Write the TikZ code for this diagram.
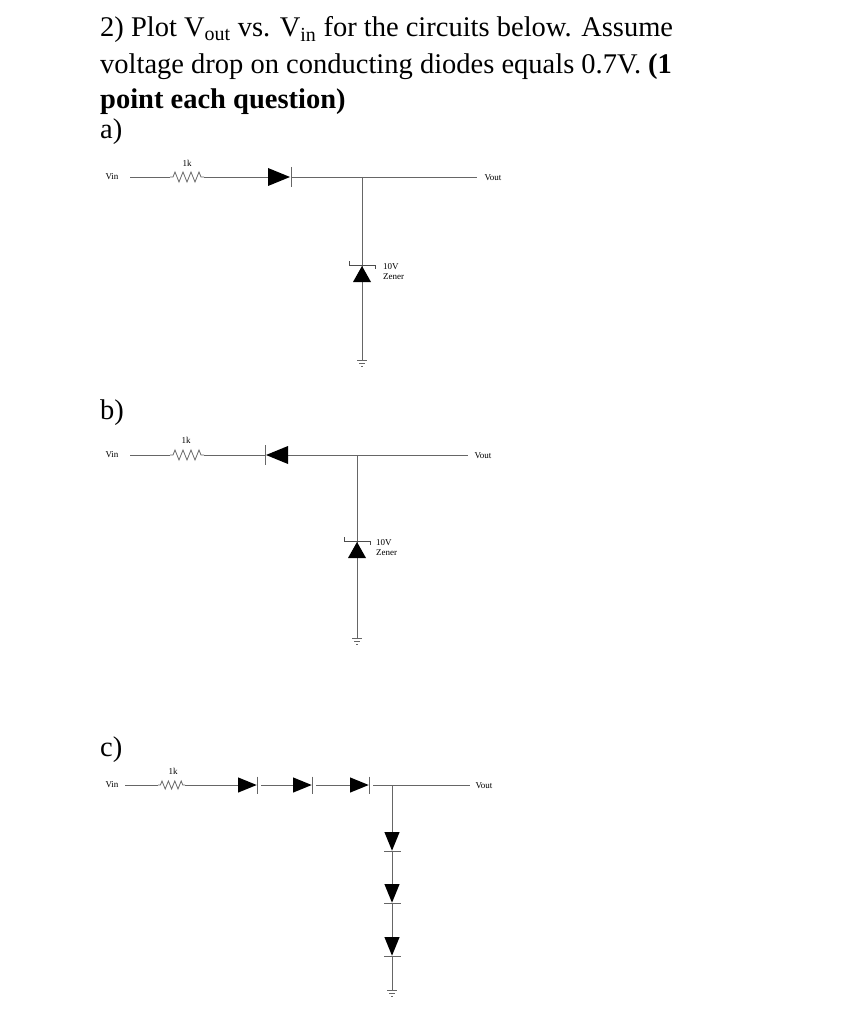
\documentclass[tikz,border=0pt]{standalone}
\usepackage{fontspec}
\setmainfont{Liberation Serif}
\begin{document}
\begin{tikzpicture}[x=1pt,y=-1pt,
  wire/.style={draw=black!60,line width=0.8pt},
  lbl/.style={font=\fontsize{9}{10}\selectfont,inner sep=0pt},
  head/.style={font=\fontsize{28.5}{34}\selectfont,anchor=base west,inner sep=0pt}]
\useasboundingbox (0,0) rectangle (846,1024);
\node[head] (h1) at (100,37) {2) Plot V\textsubscript{out} vs. V\textsubscript{in} for the circuits below. Assume};
\node[head] (h2) at (100,74) {voltage drop on conducting diodes equals 0.7V. \textbf{(1}};
\node[head] (h3) at (100,109) {\textbf{point each question)}};
\node[head] (la) at (100,139) {a)};
\node[head] (lb) at (100,419) {b)};
\node[head] (lc) at (100,756) {c)};
\tikzset{res/.pic={\draw[black!60,line width=0.8pt] (0,0)--(3,0)--(5,-5)--(9,5)--(13,-5)--(17,5)--(21,-5)--(25,5)--(29,-5)--(31,0)--(34,0);},
 dr/.pic={\fill (0,-9)--(0,9)--(22,0)--cycle; \draw[black!60,line width=0.8pt] (23,-10)--(23,10);},
 zen/.pic={\fill (-9,9)--(9,9)--(0,-7)--cycle; \draw[black!70,line width=0.8pt] (-13,-12)--(-13,-8)--(13,-8)--(13,-4);},
 gnd/.pic={\draw[black!60,line width=0.8pt] (-5,0)--(5,0) (-3,3)--(3,3) (-1,6)--(1,6);}}
% ---- a
\node[lbl] (vina) at (112,177) {Vin};
\coordinate (a0) at (130,177); \coordinate (a1) at (170,177); \coordinate (a2) at (204,177);
\coordinate (a3) at (268,177); \coordinate (a4) at (291,177); \coordinate (ja) at (362,177);
\coordinate (a5) at (477,177);
\node[lbl] (vouta) at (493,178) {Vout};
\node[lbl] (ra) at (187,163) {1k};
\draw[wire] (a0)--(a1) (a2)--(a3) (a4)--(a5);
\pic at (a1) {res}; \pic at (a3) {dr};
\coordinate (za) at (362,273); \coordinate (ga) at (362,360);
\draw[wire] (ja)--(za) (za)--(ga);
\pic at (za) {zen}; \pic at (ga) {gnd};
\node[lbl,align=left,anchor=west] (zla) at (383,272) {10V\\Zener};
% ---- b
\node[lbl] (vinb) at (112,455) {Vin};
\coordinate (b0) at (130,455); \coordinate (b1) at (170,455); \coordinate (b2) at (204,455);
\coordinate (b3) at (265,455); \coordinate (b4) at (288,455); \coordinate (jb) at (357,455);
\coordinate (b5) at (468,455);
\node[lbl] (voutb) at (483,456) {Vout};
\node[lbl] (rb) at (186,440) {1k};
\draw[wire] (b0)--(b1) (b2)--(b3) (b4)--(b5);
\pic at (b1) {res}; \pic[xscale=-1] at (b4) {dr};
\coordinate (zb) at (357,549); \coordinate (gb) at (357,638);
\draw[wire] (jb)--(zb) (zb)--(gb);
\pic at (zb) {zen}; \pic at (gb) {gnd};
\node[lbl,align=left,anchor=west] (zlb) at (376,548) {10V\\Zener};
% ---- c
\node[lbl] (vinc) at (112,785) {Vin};
\coordinate (c0) at (125,785); \coordinate (c1) at (158,785); \coordinate (c2) at (185,785);
\coordinate (d1) at (238,785); \coordinate (d2) at (293,785); \coordinate (d3) at (350,785);
\coordinate (jc) at (392,785); \coordinate (c5) at (470,785);
\node[lbl] (voutc) at (484,786) {Vout};
\node[lbl] (rc) at (173,771) {1k};
\draw[wire] (c0)--(c1) (c2)--(d1) (261,785)--(d2) (316,785)--(d3) (373,785)--(c5);
\pic[scale=0.8] at (c1) {res};
\pic[scale=0.85] at (d1) {dr}; \pic[scale=0.85] at (d2) {dr}; \pic[scale=0.85] at (d3) {dr};
\coordinate (e1) at (392,832); \coordinate (e2) at (392,884); \coordinate (e3) at (392,937); \coordinate (gc) at (392,990);
\draw[wire] (jc)--(e1) (392,852)--(e2) (392,904)--(e3) (392,957)--(gc);
\pic[rotate=-90,scale=0.85] at (e1) {dr}; \pic[rotate=-90,scale=0.85] at (e2) {dr}; \pic[rotate=-90,scale=0.85] at (e3) {dr};
\pic at (gc) {gnd};
\end{tikzpicture}
\end{document}
